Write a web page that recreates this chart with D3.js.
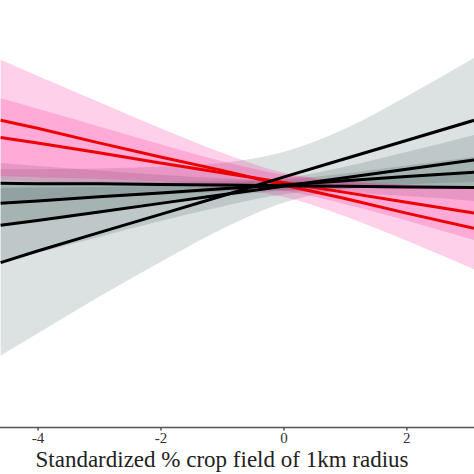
<!DOCTYPE html>
<html>
<head>
  <meta charset="utf-8">
  <script src="https://d3js.org/d3.v7.min.js"></script>
  <style>
    body { margin: 0; background: #fff; }
    .axis text { font-family: "Liberation Serif", "Times New Roman", serif; font-size: 15px; fill: #333; }
    .axis path, .axis line { stroke: #555; stroke-width: 1.5px; }
    .title { font-family: "Liberation Serif", "Times New Roman", serif; font-size: 23px; fill: #222; }
  </style>
</head>
<body>
<script>
  var xs = [-4.6, -4, -3, -2, -1, 0, 1, 2, 3.1];
  var xTicks = [-4, -2, 0, 2];
  var xTitle = "Standardized % crop field of 1km radius";

  // black (grey band) models
  var blackFit = [
    [-1.30, -1.11, -0.81, -0.51, -0.21, 0.10, 0.40, 0.70, 1.03],
    [-0.69, -0.61, -0.47, -0.33, -0.19, -0.05, 0.09, 0.23, 0.38],
    [-0.33, -0.29, -0.22, -0.16, -0.09, -0.03, 0.04, 0.11, 0.18],
    [0.00, -0.01, -0.01, -0.02, -0.03, -0.04, -0.05, -0.06, -0.07]
  ];
  var blackLow = [
    [-2.82, -2.46, -1.86, -1.29, -0.75, -0.32, -0.10, -0.02, 0.02],
    [-1.30, -1.14, -0.88, -0.62, -0.38, -0.18, -0.09, -0.06, -0.04],
    [-0.69, -0.61, -0.47, -0.34, -0.22, -0.12, -0.08, -0.07, -0.07],
    [-0.33, -0.29, -0.24, -0.19, -0.14, -0.12, -0.15, -0.21, -0.29]
  ];
  var blackHigh = [
    [0.23, 0.23, 0.24, 0.27, 0.33, 0.51, 0.89, 1.42, 2.05],
    [-0.08, -0.07, -0.06, -0.04, 0.00, 0.08, 0.27, 0.51, 0.79],
    [0.03, 0.03, 0.03, 0.02, 0.04, 0.07, 0.16, 0.29, 0.43],
    [0.33, 0.28, 0.21, 0.14, 0.08, 0.04, 0.06, 0.10, 0.16]
  ];

  // red (pink band) models
  var redFit = [
    [1.03, 0.90, 0.66, 0.43, 0.21, -0.03, -0.25, -0.49, -0.74],
    [0.75, 0.66, 0.50, 0.33, 0.17, 0.01, -0.15, -0.31, -0.49]
  ];
  var redLow = [
    [0.05, 0.03, 0.00, -0.03, -0.09, -0.22, -0.54, -0.94, -1.41],
    [0.12, 0.10, 0.07, 0.03, -0.02, -0.12, -0.34, -0.61, -0.93]
  ];
  var redHigh = [
    [2.02, 1.76, 1.33, 0.90, 0.50, 0.17, 0.03, -0.03, -0.07],
    [1.39, 1.22, 0.93, 0.64, 0.36, 0.14, 0.03, -0.02, -0.06]
  ];

  var width = 474, height = 474, axisY = 427.5;

  var svg = d3.select("body").append("svg")
      .attr("width", width)
      .attr("height", height);

  var x = d3.scaleLinear().domain([-4.61, 3.1]).range([0, width]);
  var y = d3.scaleLinear().domain([-4, 3]).range([axisY, 0]);

  var band = d3.area()
      .curve(d3.curveMonotoneX)
      .x(function(d) { return x(d.x); })
      .y0(function(d) { return y(d.lo); })
      .y1(function(d) { return y(d.hi); });

  var line = d3.line()
      .x(function(d) { return x(d.x); })
      .y(function(d) { return y(d.v); });

  function bandPts(lo, hi) {
    return xs.map(function(v, i) { return {x: v, lo: lo[i], hi: hi[i]}; });
  }
  function linePts(f) {
    return xs.map(function(v, i) { return {x: v, v: f[i]}; });
  }

  var plot = svg.append("g");

  plot.selectAll("path.gband")
      .data(d3.range(blackFit.length))
      .enter().append("path")
      .attr("class", "gband")
      .attr("d", function(i) { return band(bandPts(blackLow[i], blackHigh[i])); })
      .style("fill", "#2f4f4f")
      .style("fill-opacity", 0.17)
      .style("stroke", "none");

  plot.selectAll("path.pband")
      .data(d3.range(redFit.length))
      .enter().append("path")
      .attr("class", "pband")
      .attr("d", function(i) { return band(bandPts(redLow[i], redHigh[i])); })
      .style("fill", "#ff1493")
      .style("fill-opacity", 0.2)
      .style("stroke", "none");

  plot.selectAll("path.rline")
      .data(redFit)
      .enter().append("path")
      .attr("class", "rline")
      .attr("d", function(f) { return line(linePts(f)); })
      .style("fill", "none")
      .style("stroke", "#ee0000")
      .style("stroke-width", 3);

  plot.selectAll("path.bline")
      .data(blackFit)
      .enter().append("path")
      .attr("class", "bline")
      .attr("d", function(f) { return line(linePts(f)); })
      .style("fill", "none")
      .style("stroke", "#000")
      .style("stroke-width", 3);

  var xAxis = d3.axisBottom(x)
      .tickValues(xTicks)
      .tickSize(3)
      .tickPadding(2)
      .tickFormat(function(d) { return d < 0 ? "-" + Math.abs(d) : d; });

  svg.append("g")
      .attr("class", "axis")
      .attr("transform", "translate(0," + axisY + ")")
      .call(xAxis)
      .call(function(g) { g.select(".domain").attr("d", "M0,0H" + width); });

  svg.append("text")
      .attr("class", "title")
      .attr("x", 222)
      .attr("y", 467)
      .attr("text-anchor", "middle")
      .text(xTitle);
</script>
</body>
</html>
